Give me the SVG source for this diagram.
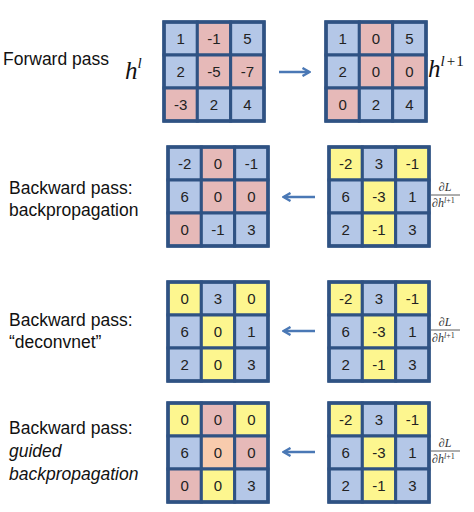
<svg xmlns="http://www.w3.org/2000/svg" width="474" height="512" viewBox="0 0 474 512">
<defs>
<style>
.c{stroke:#2f5283;stroke-width:3}
.b{fill:#b4c7e7}
.p{fill:#e6b9b8}
.y{fill:#fdf68f}
.o{fill:#f8cbad}
.frame{fill:none;stroke:#2f5283;stroke-width:3.5}
.n{font-family:"Liberation Sans",Arial,sans-serif;font-size:15px;fill:#222;text-anchor:middle}
.lbl{font-family:"Liberation Sans",Arial,sans-serif;font-size:17.5px;fill:#111}
.it{font-style:italic}
.m{font-family:"Liberation Serif","Times New Roman",serif;font-style:italic;fill:#111}
.fr{font-family:"Liberation Serif","Times New Roman",serif;fill:#333}
.arr{stroke:#4a78b5;stroke-width:2.5;fill:none}
</style>
<marker id="ah" viewBox="0 0 10 10" refX="8" refY="5" markerWidth="10" markerHeight="10" markerUnits="userSpaceOnUse" orient="auto">
<path d="M1.5,1 L8.5,5 L1.5,9" fill="none" stroke="#4a78b5" stroke-width="2.4"/>
</marker>
</defs>
<rect width="474" height="512" fill="#fff"/>

<g id="labels">
<text class="lbl" x="3" y="65">Forward pass</text>
<text class="lbl" x="9" y="194">Backward pass:</text>
<text class="lbl" x="9" y="216">backpropagation</text>
<text class="lbl" x="9" y="326">Backward pass:</text>
<text class="lbl" x="9" y="348">“deconvnet”</text>
<text class="lbl" x="9" y="434">Backward pass:</text>
<text class="lbl it" x="9" y="457">guided</text>
<text class="lbl it" x="9" y="480">backpropagation</text>
</g>

<g id="math">
<text class="m" x="125" y="79" font-size="25">h<tspan font-size="15" dy="-11">l</tspan></text>
<text class="m" x="428" y="77" font-size="25">h<tspan font-size="15" dy="-11">l</tspan><tspan font-style="normal" font-size="15" dx="2">+</tspan><tspan font-style="normal" font-size="15" dx="1">1</tspan></text>
</g>

<g id="grid-forward-in" transform="translate(164,22)">
<rect class="c b" x="0" y="0" width="33.33" height="33"/><rect class="c p" x="33.33" y="0" width="33.33" height="33"/><rect class="c b" x="66.67" y="0" width="33.33" height="33"/>
<rect class="c b" x="0" y="33" width="33.33" height="33"/><rect class="c p" x="33.33" y="33" width="33.33" height="33"/><rect class="c p" x="66.67" y="33" width="33.33" height="33"/>
<rect class="c p" x="0" y="66" width="33.33" height="33"/><rect class="c b" x="33.33" y="66" width="33.33" height="33"/><rect class="c b" x="66.67" y="66" width="33.33" height="33"/>
<rect class="frame" x="0" y="0" width="100" height="99"/>
<text class="n" x="16.67" y="22">1</text><text class="n" x="50" y="22">-1</text><text class="n" x="83.33" y="22">5</text>
<text class="n" x="16.67" y="55">2</text><text class="n" x="50" y="55">-5</text><text class="n" x="83.33" y="55">-7</text>
<text class="n" x="16.67" y="88">-3</text><text class="n" x="50" y="88">2</text><text class="n" x="83.33" y="88">4</text>
</g>

<g id="grid-forward-out" transform="translate(326,22)">
<rect class="c b" x="0" y="0" width="33.33" height="33"/><rect class="c p" x="33.33" y="0" width="33.33" height="33"/><rect class="c b" x="66.67" y="0" width="33.33" height="33"/>
<rect class="c b" x="0" y="33" width="33.33" height="33"/><rect class="c p" x="33.33" y="33" width="33.33" height="33"/><rect class="c p" x="66.67" y="33" width="33.33" height="33"/>
<rect class="c p" x="0" y="66" width="33.33" height="33"/><rect class="c b" x="33.33" y="66" width="33.33" height="33"/><rect class="c b" x="66.67" y="66" width="33.33" height="33"/>
<rect class="frame" x="0" y="0" width="100" height="99"/>
<text class="n" x="16.67" y="22">1</text><text class="n" x="50" y="22">0</text><text class="n" x="83.33" y="22">5</text>
<text class="n" x="16.67" y="55">2</text><text class="n" x="50" y="55">0</text><text class="n" x="83.33" y="55">0</text>
<text class="n" x="16.67" y="88">0</text><text class="n" x="50" y="88">2</text><text class="n" x="83.33" y="88">4</text>
</g>

<g id="grid-backprop-out" transform="translate(168,147)">
<rect class="c b" x="0" y="0" width="33.33" height="33"/><rect class="c p" x="33.33" y="0" width="33.33" height="33"/><rect class="c b" x="66.67" y="0" width="33.33" height="33"/>
<rect class="c b" x="0" y="33" width="33.33" height="33"/><rect class="c p" x="33.33" y="33" width="33.33" height="33"/><rect class="c p" x="66.67" y="33" width="33.33" height="33"/>
<rect class="c p" x="0" y="66" width="33.33" height="33"/><rect class="c b" x="33.33" y="66" width="33.33" height="33"/><rect class="c b" x="66.67" y="66" width="33.33" height="33"/>
<rect class="frame" x="0" y="0" width="100" height="99"/>
<text class="n" x="16.67" y="22">-2</text><text class="n" x="50" y="22">0</text><text class="n" x="83.33" y="22">-1</text>
<text class="n" x="16.67" y="55">6</text><text class="n" x="50" y="55">0</text><text class="n" x="83.33" y="55">0</text>
<text class="n" x="16.67" y="88">0</text><text class="n" x="50" y="88">-1</text><text class="n" x="83.33" y="88">3</text>
</g>

<g id="grid-backprop-in" transform="translate(329,147)">
<rect class="c y" x="0" y="0" width="33.33" height="33"/><rect class="c b" x="33.33" y="0" width="33.33" height="33"/><rect class="c y" x="66.67" y="0" width="33.33" height="33"/>
<rect class="c b" x="0" y="33" width="33.33" height="33"/><rect class="c y" x="33.33" y="33" width="33.33" height="33"/><rect class="c b" x="66.67" y="33" width="33.33" height="33"/>
<rect class="c b" x="0" y="66" width="33.33" height="33"/><rect class="c y" x="33.33" y="66" width="33.33" height="33"/><rect class="c b" x="66.67" y="66" width="33.33" height="33"/>
<rect class="frame" x="0" y="0" width="100" height="99"/>
<text class="n" x="16.67" y="22">-2</text><text class="n" x="50" y="22">3</text><text class="n" x="83.33" y="22">-1</text>
<text class="n" x="16.67" y="55">6</text><text class="n" x="50" y="55">-3</text><text class="n" x="83.33" y="55">1</text>
<text class="n" x="16.67" y="88">2</text><text class="n" x="50" y="88">-1</text><text class="n" x="83.33" y="88">3</text>
<text class="fr" x="116" y="44" font-size="12" text-anchor="middle"><tspan font-style="normal">∂</tspan><tspan font-style="italic">L</tspan></text>
<line x1="102" y1="48" x2="131" y2="48" stroke="#333" stroke-width="0.8"/>
<text class="fr" x="103" y="60" font-size="12"><tspan>∂</tspan><tspan font-style="italic">h</tspan><tspan font-size="8" dy="-4" font-style="italic">l</tspan><tspan font-size="8">+1</tspan></text>
</g>

<g id="grid-deconv-out" transform="translate(168,282)">
<rect class="c y" x="0" y="0" width="33.33" height="33"/><rect class="c b" x="33.33" y="0" width="33.33" height="33"/><rect class="c y" x="66.67" y="0" width="33.33" height="33"/>
<rect class="c b" x="0" y="33" width="33.33" height="33"/><rect class="c y" x="33.33" y="33" width="33.33" height="33"/><rect class="c b" x="66.67" y="33" width="33.33" height="33"/>
<rect class="c b" x="0" y="66" width="33.33" height="33"/><rect class="c y" x="33.33" y="66" width="33.33" height="33"/><rect class="c b" x="66.67" y="66" width="33.33" height="33"/>
<rect class="frame" x="0" y="0" width="100" height="99"/>
<text class="n" x="16.67" y="22">0</text><text class="n" x="50" y="22">3</text><text class="n" x="83.33" y="22">0</text>
<text class="n" x="16.67" y="55">6</text><text class="n" x="50" y="55">0</text><text class="n" x="83.33" y="55">1</text>
<text class="n" x="16.67" y="88">2</text><text class="n" x="50" y="88">0</text><text class="n" x="83.33" y="88">3</text>
</g>

<g id="grid-deconv-in" transform="translate(329,282)">
<rect class="c y" x="0" y="0" width="33.33" height="33"/><rect class="c b" x="33.33" y="0" width="33.33" height="33"/><rect class="c y" x="66.67" y="0" width="33.33" height="33"/>
<rect class="c b" x="0" y="33" width="33.33" height="33"/><rect class="c y" x="33.33" y="33" width="33.33" height="33"/><rect class="c b" x="66.67" y="33" width="33.33" height="33"/>
<rect class="c b" x="0" y="66" width="33.33" height="33"/><rect class="c y" x="33.33" y="66" width="33.33" height="33"/><rect class="c b" x="66.67" y="66" width="33.33" height="33"/>
<rect class="frame" x="0" y="0" width="100" height="99"/>
<text class="n" x="16.67" y="22">-2</text><text class="n" x="50" y="22">3</text><text class="n" x="83.33" y="22">-1</text>
<text class="n" x="16.67" y="55">6</text><text class="n" x="50" y="55">-3</text><text class="n" x="83.33" y="55">1</text>
<text class="n" x="16.67" y="88">2</text><text class="n" x="50" y="88">-1</text><text class="n" x="83.33" y="88">3</text>
<text class="fr" x="116" y="44" font-size="12" text-anchor="middle"><tspan font-style="normal">∂</tspan><tspan font-style="italic">L</tspan></text>
<line x1="102" y1="48" x2="131" y2="48" stroke="#333" stroke-width="0.8"/>
<text class="fr" x="103" y="60" font-size="12"><tspan>∂</tspan><tspan font-style="italic">h</tspan><tspan font-size="8" dy="-4" font-style="italic">l</tspan><tspan font-size="8">+1</tspan></text>
</g>

<g id="grid-guided-out" transform="translate(168,403)">
<rect class="c y" x="0" y="0" width="33.33" height="33"/><rect class="c p" x="33.33" y="0" width="33.33" height="33"/><rect class="c y" x="66.67" y="0" width="33.33" height="33"/>
<rect class="c b" x="0" y="33" width="33.33" height="33"/><rect class="c o" x="33.33" y="33" width="33.33" height="33"/><rect class="c p" x="66.67" y="33" width="33.33" height="33"/>
<rect class="c p" x="0" y="66" width="33.33" height="33"/><rect class="c y" x="33.33" y="66" width="33.33" height="33"/><rect class="c b" x="66.67" y="66" width="33.33" height="33"/>
<rect class="frame" x="0" y="0" width="100" height="99"/>
<text class="n" x="16.67" y="22">0</text><text class="n" x="50" y="22">0</text><text class="n" x="83.33" y="22">0</text>
<text class="n" x="16.67" y="55">6</text><text class="n" x="50" y="55">0</text><text class="n" x="83.33" y="55">0</text>
<text class="n" x="16.67" y="88">0</text><text class="n" x="50" y="88">0</text><text class="n" x="83.33" y="88">3</text>
</g>

<g id="grid-guided-in" transform="translate(329,403)">
<rect class="c y" x="0" y="0" width="33.33" height="33"/><rect class="c b" x="33.33" y="0" width="33.33" height="33"/><rect class="c y" x="66.67" y="0" width="33.33" height="33"/>
<rect class="c b" x="0" y="33" width="33.33" height="33"/><rect class="c y" x="33.33" y="33" width="33.33" height="33"/><rect class="c b" x="66.67" y="33" width="33.33" height="33"/>
<rect class="c b" x="0" y="66" width="33.33" height="33"/><rect class="c y" x="33.33" y="66" width="33.33" height="33"/><rect class="c b" x="66.67" y="66" width="33.33" height="33"/>
<rect class="frame" x="0" y="0" width="100" height="99"/>
<text class="n" x="16.67" y="22">-2</text><text class="n" x="50" y="22">3</text><text class="n" x="83.33" y="22">-1</text>
<text class="n" x="16.67" y="55">6</text><text class="n" x="50" y="55">-3</text><text class="n" x="83.33" y="55">1</text>
<text class="n" x="16.67" y="88">2</text><text class="n" x="50" y="88">-1</text><text class="n" x="83.33" y="88">3</text>
<text class="fr" x="116" y="44" font-size="12" text-anchor="middle"><tspan font-style="normal">∂</tspan><tspan font-style="italic">L</tspan></text>
<line x1="102" y1="48" x2="131" y2="48" stroke="#333" stroke-width="0.8"/>
<text class="fr" x="103" y="60" font-size="12"><tspan>∂</tspan><tspan font-style="italic">h</tspan><tspan font-size="8" dy="-4" font-style="italic">l</tspan><tspan font-size="8">+1</tspan></text>
</g>

<g id="connectors">
<line class="arr" x1="279" y1="72" x2="309" y2="72" marker-end="url(#ah)"/>
<line class="arr" x1="315" y1="197" x2="284" y2="197" marker-end="url(#ah)"/>
<line class="arr" x1="315" y1="331" x2="284" y2="331" marker-end="url(#ah)"/>
<line class="arr" x1="315" y1="452" x2="284" y2="452" marker-end="url(#ah)"/>
</g>
</svg>
